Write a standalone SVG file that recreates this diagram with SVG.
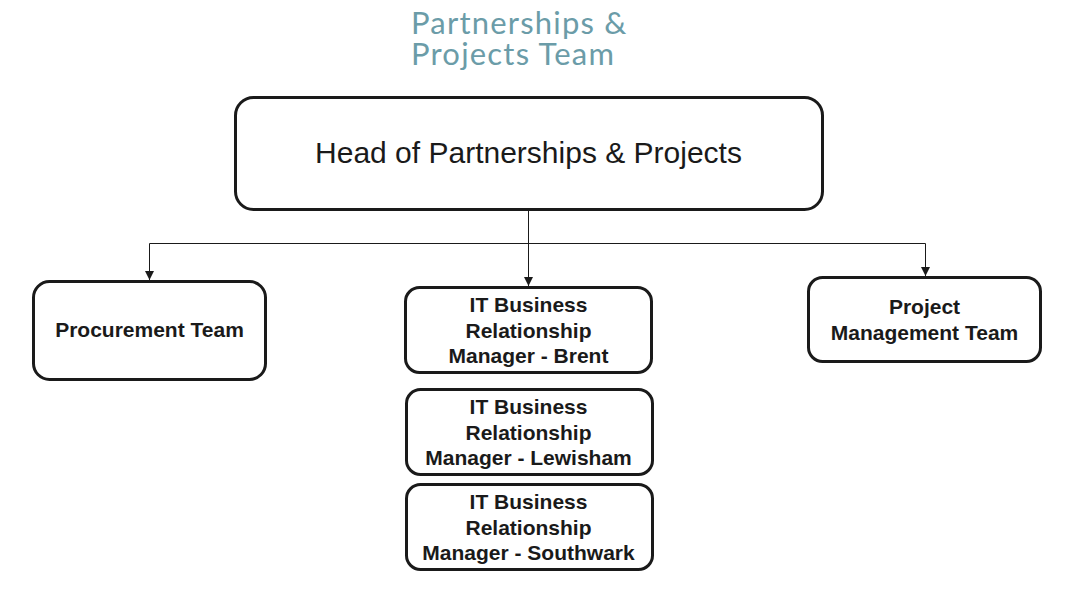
<svg xmlns="http://www.w3.org/2000/svg" width="1079" height="615" viewBox="0 0 1079 615">
<defs>
<marker id="arr" viewBox="0 0 10 10" refX="10" refY="5" markerWidth="9" markerHeight="9" markerUnits="userSpaceOnUse" orient="auto">
<path d="M0,0 L10,5 L0,10 z" fill="#1a1a1a"/>
</marker>
<style>
.box{fill:#fff;stroke:#1a1a1a;stroke-width:3}
.t{font-family:"Liberation Sans",Arial,sans-serif;font-weight:bold;font-size:21px;fill:#1a1a1a;text-anchor:middle}
.con{fill:none;stroke:#1a1a1a;stroke-width:1}
</style>
</defs>
<rect width="1079" height="615" fill="#fff"/>
<g id="title" font-family="Lato, 'Open Sans', sans-serif" font-size="31" letter-spacing="1.2" fill="#6b9ca8">
<text x="411" y="34">Partnerships &amp;</text>
<text x="411" y="65">Projects Team</text>
</g>
<g id="connectors">
<path class="con" d="M528.5,209 V243.5 M149.5,243.5 H925.5"/>
<path class="con" d="M149.5,243.5 V280" marker-end="url(#arr)"/>
<path class="con" d="M528.5,243.5 V286" marker-end="url(#arr)"/>
<path class="con" d="M925.5,243.5 V276" marker-end="url(#arr)"/>
</g>
<g id="head">
<rect class="box" x="235.5" y="97.5" width="587" height="112" rx="18"/>
<text x="528.5" y="163" font-family="Liberation Sans, Arial, sans-serif" font-size="30" fill="#1a1a1a" text-anchor="middle">Head of Partnerships &amp; Projects</text>
</g>
<g id="procurement">
<rect class="box" x="33.5" y="281.5" width="232" height="98" rx="16"/>
<text class="t" x="149.5" y="337">Procurement Team</text>
</g>
<g id="brent">
<rect class="box" x="405.5" y="287.5" width="246" height="85" rx="14"/>
<text class="t" x="528.5" y="312">IT Business</text>
<text class="t" x="528.5" y="338">Relationship</text>
<text class="t" x="528.5" y="363">Manager - Brent</text>
</g>
<g id="lewisham">
<rect class="box" x="406.5" y="389.5" width="246" height="85" rx="14"/>
<text class="t" x="528.5" y="414">IT Business</text>
<text class="t" x="528.5" y="440">Relationship</text>
<text class="t" x="528.5" y="465">Manager - Lewisham</text>
</g>
<g id="southwark">
<rect class="box" x="406.5" y="484.5" width="246" height="85" rx="14"/>
<text class="t" x="528.5" y="509">IT Business</text>
<text class="t" x="528.5" y="535">Relationship</text>
<text class="t" x="528.5" y="560">Manager - Southwark</text>
</g>
<g id="project">
<rect class="box" x="808.5" y="277.5" width="232" height="84" rx="14"/>
<text class="t" x="924.5" y="314">Project</text>
<text class="t" x="924.5" y="340">Management Team</text>
</g>
</svg>
